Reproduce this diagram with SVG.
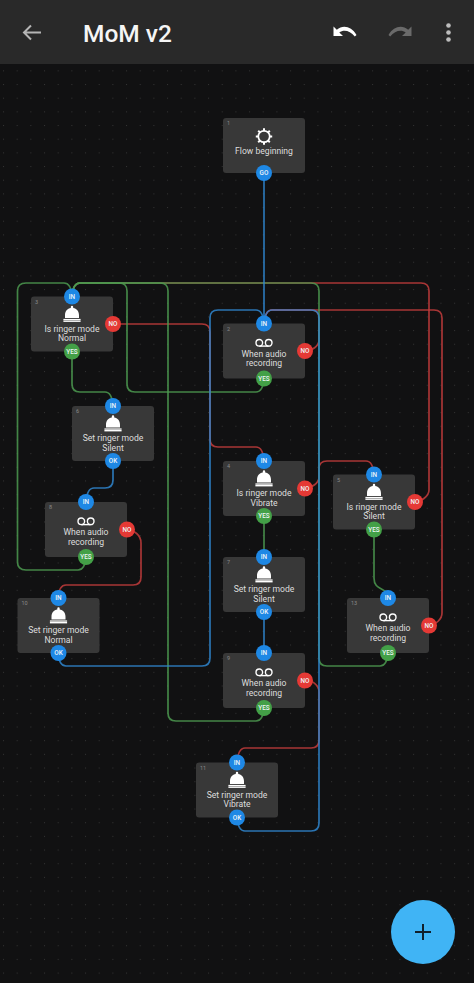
<svg xmlns="http://www.w3.org/2000/svg" width="474" height="983" viewBox="0 0 474 983">
<style>
text{font-family:Roboto,"Liberation Sans",sans-serif}
.card{fill:#383838}
.num{fill:#8a8a8a;font-size:5.5px}
.lbl{fill:#dedede;font-size:8.6px;text-anchor:middle}
.pt{fill:#eef4f8;font-size:6.4px;font-weight:500;text-anchor:middle}
.in{fill:#1e88e5}.no{fill:#e53935}.yes{fill:#43a047}
#wires path{fill:none;stroke-width:1.7;stroke-opacity:.85}
.g{stroke:#4c9a50}.r{stroke:#c23c3c}.b{stroke:#2f86cf}
</style>
<defs>
<pattern id="dots" width="13.67" height="13.67" patternUnits="userSpaceOnUse" x="3" y="2">
<rect x="0" y="0" width="1" height="1" fill="#333"/>
</pattern>
<symbol id="bell" overflow="visible"><path d="M-1.2-14.5a1.2 1.2 0 0 1 2.4 0v1.1C4.6-12.9 7-10 7-6.3V-3.6H-7V-6.3C-7-10-4.6-12.9-1.2-13.4Z" fill="#fff"/><rect x="-8.6" y="-2.6" width="17.2" height="1.3" fill="#fff"/><rect x="-8.6" y="-1" width="17.2" height="1.4" fill="#fff"/></symbol>
<symbol id="vm" overflow="visible"><g fill="none" stroke="#fff" stroke-width="1.4"><circle cx="-4.7" cy="-3.7" r="3.3"/><circle cx="4.7" cy="-3.7" r="3.3"/><path d="M-4.7-.4H4.7"/></g></symbol>
</defs>
<rect width="474" height="983" fill="#111112"/>
<rect y="64" width="474" height="919" fill="url(#dots)"/>
<rect width="474" height="64" fill="#292929"/>
<path d="M41 32.5H24.500M31 25.500L24 32.500L31 39.500" fill="none" stroke="#b5b5b5" stroke-width="2"/>
<text x="83" y="42" font-size="24.500" font-weight="500" fill="#f5f5f5">MoM v2</text>
<path d="M333.500 26.500V36H343L339.300 32.400C343.500 29.300 350 30.200 354.800 36.500L356.500 35C351.500 26.500 343 24.500 336.800 29.800Z" fill="#fff"/>
<path d="M411.500 26.500V36H402L405.700 32.400C401.500 29.300 395 30.200 390.200 36.500L388.500 35C393.500 26.500 402 24.500 408.200 29.800Z" fill="#6a6a6a"/>
<g fill="#bdbdbd"><circle cx="448.500" cy="25.500" r="2.300"/><circle cx="448.500" cy="32.500" r="2.300"/><circle cx="448.500" cy="39.500" r="2.300"/></g>
<g id="wires">
<path class="r" d="M415 502C421 502 429 496 429 490V291Q429 283 421 283H80Q73 283 72 296"/>
<path class="r" d="M429 625C436 625 442 619 442 613V318Q442 310 434 310H272Q265 310 264 324"/>
<path class="r" d="M305 351C312 351 319 346 319 340V318Q319 310 311 310H272Q265 310 264 324"/>
<path class="r" d="M113 324H202Q210 324 210 332V439Q210 447 218 447H256Q263 447 264 461"/>
<path class="r" d="M305 488C312 488 319 483 319 477V469Q319 461 327 461H366Q373 461 374 475"/>
<path class="r" d="M127 530C134 530 141 535 141 543V577Q141 585 133 585H66Q59 585 58 598"/>
<path class="r" d="M305 680C312 680 319 685 319 692V740Q319 748 311 748H245Q238 748 237 763"/>
<path class="g" d="M86 557Q85 570 78 570H26Q17.500 570 17.500 562V291Q17.500 283 26 283H64Q71 283 72 296"/>
<path class="g" d="M264 378Q263 392 256 392H135Q127 392 127 384V291Q127 283 119 283H80Q73 283 72 296"/>
<path class="g" d="M264 708Q263 721 256 721H176Q168 721 168 713V291Q168 283 160 283H80Q73 283 72 296"/>
<path class="g" d="M388 653Q387 666 380 666H327Q319 666 319 658V291Q319 283 311 283H80Q73 283 72 296"/>
<path class="g" d="M72 351V384Q72 392 80 392H105Q112 392 113 406"/>
<path class="g" d="M264 516V557"/>
<path class="g" d="M374 529V578C374 592 388 586 388 598"/>
<path class="b" d="M264 173V324"/>
<path class="b" d="M113 461V480Q113 488 105 488H94Q87 488 86 502"/>
<path class="b" d="M58 653Q59 666 66 666H202Q210 666 210 658V318Q210 310 218 310H256Q263 310 264 324"/>
<path class="b" d="M237 817Q238 831 245 831H311Q319 831 319 823V318Q319 310 311 310H272Q265 310 264 324"/>
<path class="b" d="M264 612V653"/>
</g>
<g id="node1" transform="translate(223,118)"><rect class="card" width="82" height="55" rx="3"/><text class="num" x="4" y="7">1</text>
<g transform="translate(41,18.500)"><circle r="5.700" fill="none" stroke="#fff" stroke-width="1.700"/><path d="M0-8.200V-5.500M0 8.200V5.500M-8.200 0H-5.500M8.200 0H5.500M-5.800-5.800L-3.900-3.900M5.800-5.800L3.900-3.900M-5.800 5.800L-3.900 3.900M5.800 5.800L3.900 3.900" stroke="#fff" stroke-width="2"/></g>
<text class="lbl" x="41" y="36">Flow beginning</text>
<circle class="in" cx="41" cy="55" r="8"/><text class="pt" x="41" y="57.300">GO</text></g>
<g id="node2" transform="translate(223,323.500)"><rect class="card" width="82" height="55" rx="3"/><text class="num" x="4" y="7">2</text><use href="#vm" x="41" y="23"/><text class="lbl" x="41" y="33">When audio</text><text class="lbl" x="41" y="42.500">recording</text>
<circle class="in" cx="41" cy="0" r="8"/><text class="pt" x="41" y="2.300">IN</text><circle class="no" cx="82" cy="27.500" r="8"/><text class="pt" x="82" y="29.800">NO</text><circle class="yes" cx="41" cy="55" r="8"/><text class="pt" x="41" y="57.300">YES</text></g>
<g id="node3" transform="translate(31,296.500)"><rect class="card" width="82" height="55" rx="3"/><text class="num" x="4" y="7">3</text><use href="#bell" x="41" y="25"/><text class="lbl" x="41" y="35">Is ringer mode</text><text class="lbl" x="41" y="44.500">Normal</text>
<circle class="in" cx="41" cy="0" r="8"/><text class="pt" x="41" y="2.300">IN</text><circle class="no" cx="82" cy="27.500" r="8"/><text class="pt" x="82" y="29.800">NO</text><circle class="yes" cx="41" cy="55" r="8"/><text class="pt" x="41" y="57.300">YES</text></g>
<g id="node4" transform="translate(223,461)"><rect class="card" width="82" height="55" rx="3"/><text class="num" x="4" y="7">4</text><use href="#bell" x="41" y="25"/><text class="lbl" x="41" y="35">Is ringer mode</text><text class="lbl" x="41" y="44.500">Vibrate</text>
<circle class="in" cx="41" cy="0" r="8"/><text class="pt" x="41" y="2.300">IN</text><circle class="no" cx="82" cy="27.500" r="8"/><text class="pt" x="82" y="29.800">NO</text><circle class="yes" cx="41" cy="55" r="8"/><text class="pt" x="41" y="57.300">YES</text></g>
<g id="node5" transform="translate(333,474.500)"><rect class="card" width="82" height="55" rx="3"/><text class="num" x="4" y="7">5</text><use href="#bell" x="41" y="25"/><text class="lbl" x="41" y="35">Is ringer mode</text><text class="lbl" x="41" y="44.500">Silent</text>
<circle class="in" cx="41" cy="0" r="8"/><text class="pt" x="41" y="2.300">IN</text><circle class="no" cx="82" cy="27.500" r="8"/><text class="pt" x="82" y="29.800">NO</text><circle class="yes" cx="41" cy="55" r="8"/><text class="pt" x="41" y="57.300">YES</text></g>
<g id="node6" transform="translate(72,406)"><rect class="card" width="82" height="55" rx="3"/><text class="num" x="4" y="7">6</text><use href="#bell" x="41" y="25"/><text class="lbl" x="41" y="35">Set ringer mode</text><text class="lbl" x="41" y="44.500">Silent</text>
<circle class="in" cx="41" cy="0" r="8"/><text class="pt" x="41" y="2.300">IN</text><circle class="in" cx="41" cy="55" r="8"/><text class="pt" x="41" y="57.300">OK</text></g>
<g id="node7" transform="translate(223,557)"><rect class="card" width="82" height="55" rx="3"/><text class="num" x="4" y="7">7</text><use href="#bell" x="41" y="25"/><text class="lbl" x="41" y="35">Set ringer mode</text><text class="lbl" x="41" y="44.500">Silent</text>
<circle class="in" cx="41" cy="0" r="8"/><text class="pt" x="41" y="2.300">IN</text><circle class="in" cx="41" cy="55" r="8"/><text class="pt" x="41" y="57.300">OK</text></g>
<g id="node8" transform="translate(45,502)"><rect class="card" width="82" height="55" rx="3"/><text class="num" x="4" y="7">8</text><use href="#vm" x="41" y="23"/><text class="lbl" x="41" y="33">When audio</text><text class="lbl" x="41" y="42.500">recording</text>
<circle class="in" cx="41" cy="0" r="8"/><text class="pt" x="41" y="2.300">IN</text><circle class="no" cx="82" cy="27.500" r="8"/><text class="pt" x="82" y="29.800">NO</text><circle class="yes" cx="41" cy="55" r="8"/><text class="pt" x="41" y="57.300">YES</text></g>
<g id="node9" transform="translate(223,653)"><rect class="card" width="82" height="55" rx="3"/><text class="num" x="4" y="7">9</text><use href="#vm" x="41" y="23"/><text class="lbl" x="41" y="33">When audio</text><text class="lbl" x="41" y="42.500">recording</text>
<circle class="in" cx="41" cy="0" r="8"/><text class="pt" x="41" y="2.300">IN</text><circle class="no" cx="82" cy="27.500" r="8"/><text class="pt" x="82" y="29.800">NO</text><circle class="yes" cx="41" cy="55" r="8"/><text class="pt" x="41" y="57.300">YES</text></g>
<g id="node10" transform="translate(17.500,598)"><rect class="card" width="82" height="55" rx="3"/><text class="num" x="4" y="7">10</text><use href="#bell" x="41" y="25"/><text class="lbl" x="41" y="35">Set ringer mode</text><text class="lbl" x="41" y="44.500">Normal</text>
<circle class="in" cx="41" cy="0" r="8"/><text class="pt" x="41" y="2.300">IN</text><circle class="in" cx="41" cy="55" r="8"/><text class="pt" x="41" y="57.300">OK</text></g>
<g id="node11" transform="translate(196,762.500)"><rect class="card" width="82" height="55" rx="3"/><text class="num" x="4" y="7">11</text><use href="#bell" x="41" y="25"/><text class="lbl" x="41" y="35">Set ringer mode</text><text class="lbl" x="41" y="44.500">Vibrate</text>
<circle class="in" cx="41" cy="0" r="8"/><text class="pt" x="41" y="2.300">IN</text><circle class="in" cx="41" cy="55" r="8"/><text class="pt" x="41" y="57.300">OK</text></g>
<g id="node13" transform="translate(347,598)"><rect class="card" width="82" height="55" rx="3"/><text class="num" x="4" y="7">13</text><use href="#vm" x="41" y="23"/><text class="lbl" x="41" y="33">When audio</text><text class="lbl" x="41" y="42.500">recording</text>
<circle class="in" cx="41" cy="0" r="8"/><text class="pt" x="41" y="2.300">IN</text><circle class="no" cx="82" cy="27.500" r="8"/><text class="pt" x="82" y="29.800">NO</text><circle class="yes" cx="41" cy="55" r="8"/><text class="pt" x="41" y="57.300">YES</text></g>
<g id="fab"><circle cx="423" cy="932" r="32" fill="#40b4f5"/><path d="M423 924V940M415 932H431" stroke="#10202c" stroke-width="2"/></g>
</svg>
